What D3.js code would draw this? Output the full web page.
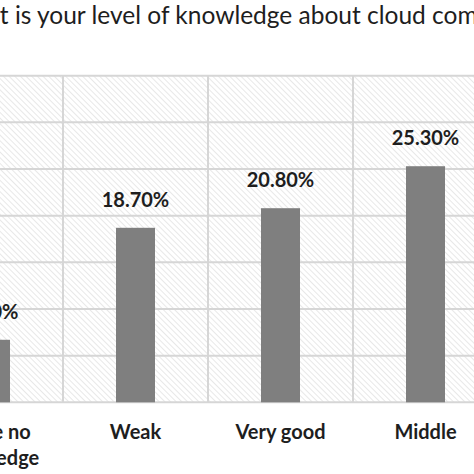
<!DOCTYPE html>
<html><head><meta charset="utf-8">
<script src="https://cdn.jsdelivr.net/npm/d3@7"></script>
<style>body{margin:0;background:#fff}</style></head>
<body><svg id="c" width="474" height="474"></svg>
<script>
var categories = ["I have no|knowledge", "Weak", "Very good", "Middle"];
var values = [6.7, 18.7, 20.8, 25.3];
var valueLabels = ["6.70%", "18.70%", "20.80%", "25.30%"];
var yTicks = [0, 5, 10, 15, 20, 25, 30, 35];
var title = "What is your level of knowledge about cloud computing?";

var svg = d3.select("#c"),
    plotTop = 75.7, plotBottom = 402.3,
    font = "Lato, 'Open Sans', sans-serif";

var defs = svg.append("defs");
var pat = defs.append("pattern").attr("id", "hatch")
    .attr("width", 4).attr("height", 4)
    .attr("patternUnits", "userSpaceOnUse")
    .attr("patternTransform", "rotate(-45)");
pat.append("line").attr("x1", 0).attr("y1", 0).attr("x2", 0).attr("y2", 4)
    .attr("stroke", "#e0e0e0").attr("stroke-width", 1.5);

// categories spaced 145px, first one partly off the left edge
var x = d3.scaleBand().domain(categories).range([-82, 498]).paddingInner(0).paddingOuter(0);
var y = d3.scaleLinear().domain([0, 35]).range([plotBottom, plotTop]);

svg.append("rect").attr("x", 0).attr("y", plotTop).attr("width", 474)
    .attr("height", plotBottom - plotTop).attr("fill", "url(#hatch)");

// horizontal grid
svg.selectAll("line.h").data(yTicks).enter().append("line")
    .attr("x1", 0).attr("x2", 474)
    .attr("y1", function(d) { return y(d); }).attr("y2", function(d) { return y(d); })
    .attr("stroke", "#d6d6d6").attr("stroke-width", 2);
// vertical grid between categories
svg.selectAll("line.v").data(categories.slice(1)).enter().append("line")
    .attr("x1", function(d) { return x(d); }).attr("x2", function(d) { return x(d); })
    .attr("y1", plotTop).attr("y2", plotBottom)
    .attr("stroke", "#d6d6d6").attr("stroke-width", 2);

var bw = 39;
svg.selectAll("rect.bar").data(values).enter().append("rect")
    .attr("x", function(d, i) { return x(categories[i]) + x.bandwidth() / 2 - bw / 2; })
    .attr("y", function(d) { return y(d); })
    .attr("width", bw)
    .attr("height", function(d) { return plotBottom - y(d); })
    .attr("fill", "#7f7f7f");

svg.selectAll("text.val").data(values).enter().append("text")
    .attr("x", function(d, i) { return x(categories[i]) + x.bandwidth() / 2; })
    .attr("y", function(d) { return y(d) - 21; })
    .attr("text-anchor", "middle")
    .attr("font-family", font).attr("font-weight", "bold").attr("font-size", 20)
    .attr("fill", "#1e1e1e")
    .text(function(d, i) { return valueLabels[i]; });

categories.forEach(function(c) {
    var t = svg.append("text")
        .attr("x", x(c) + x.bandwidth() / 2).attr("y", 439)
        .attr("text-anchor", "middle")
        .attr("font-family", font).attr("font-weight", "bold").attr("font-size", 20)
        .attr("fill", "#1e1e1e");
    c.split("|").forEach(function(line, k) {
        t.append("tspan").attr("x", x(c) + x.bandwidth() / 2)
            .attr("dy", k ? 26 : 0).text(line);
    });
});

// title, shifted so "What is" starts off the left edge as in the crop
var tt = svg.append("text").attr("y", 24)
    .attr("font-family", font).attr("font-size", 24.5).attr("fill", "#1e1e1e")
    .text("Wha");
var off = tt.node().getComputedTextLength();
tt.attr("x", -off).text(title);
</script></body></html>
